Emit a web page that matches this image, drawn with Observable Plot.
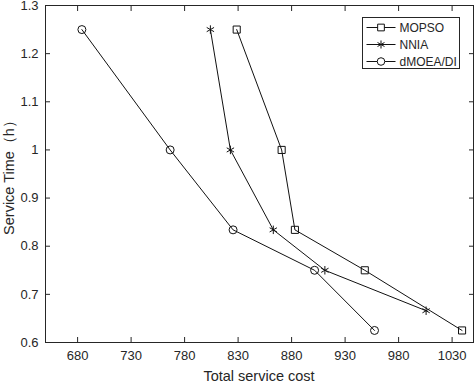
<!DOCTYPE html>
<html>
<head>
<meta charset="utf-8">
<script src="https://cdn.jsdelivr.net/npm/d3@7"></script>
<script src="https://cdn.jsdelivr.net/npm/@observablehq/plot@0.6"></script>
<style>
  html, body { margin: 0; padding: 0; background: #fff; }
  #chart { position: relative; width: 474px; height: 384px; }
  svg { font-family: Arial, "Liberation Sans", sans-serif; }
</style>
</head>
<body>
<div id="chart"></div>
<script>
const seriesNames = ["MOPSO", "NNIA", "dMOEA/DI"];
const symbols = ["square", "asterisk", "circle"];
const mopsoCost = [828.7, 870.7, 883.1, 948.4, 1039.3];
const mopsoTime = [1.25, 1.0, 0.834, 0.75, 0.625];
const nniaCost = [804.1, 822.8, 862.9, 911.1, 1005.7];
const nniaTime = [1.25, 1.0, 0.834, 0.75, 0.666];
const dmoeaCost = [684.0, 766.5, 825.3, 901.5, 957.5];
const dmoeaTime = [1.25, 1.0, 0.834, 0.75, 0.625];
const xTicks = [680, 730, 780, 830, 880, 930, 980, 1030];
const yTicks = [0.6, 0.7, 0.8, 0.9, 1, 1.1, 1.2, 1.3];
const xLabel = "Total service cost";
const yLabel = "Service Time\uFF08h\uFF09";

const costs = [mopsoCost, nniaCost, dmoeaCost];
const times = [mopsoTime, nniaTime, dmoeaTime];
const data = [];
seriesNames.forEach((s, i) => {
  costs[i].forEach((c, j) => data.push({series: s, cost: c, time: times[i][j], symbol: symbols[i]}));
});

const ink = "#262626";
const plot = Plot.plot({
  width: 474,
  height: 384,
  marginLeft: 45,
  marginRight: 1,
  marginTop: 5,
  marginBottom: 42,
  style: {fontFamily: "Arial, 'Liberation Sans', sans-serif", fontSize: "13px", color: ink, background: "#fff"},
  x: {domain: [650, 1050]},
  y: {domain: [0.6, 1.3]},
  marks: [
    Plot.frame({stroke: ink, strokeWidth: 1}),
    Plot.axisX(xTicks, {anchor: "bottom", tickSize: 0, tickPadding: 8, label: null, fontSize: 13, tickFormat: d => String(d)}),
    Plot.axisX(xTicks, {anchor: "bottom", tickSize: -5, text: null, label: null, stroke: ink}),
    Plot.axisX(xTicks, {anchor: "top", tickSize: -5, text: null, label: null, stroke: ink}),
    Plot.axisY(yTicks, {anchor: "left", tickSize: 0, tickPadding: 7, label: null, fontSize: 13, tickFormat: d => String(d)}),
    Plot.axisY(yTicks, {anchor: "left", tickSize: -5, text: null, label: null, stroke: ink}),
    Plot.axisY(yTicks, {anchor: "right", tickSize: -5, text: null, label: null, stroke: ink}),
    Plot.line(data, {x: "cost", y: "time", z: "series", stroke: "#111", strokeWidth: 1}),
    Plot.dot(data, {x: "cost", y: "time", symbol: "symbol", r: 4, stroke: "#111", fill: "none", strokeWidth: 1})
  ]
});
plot.style.display = "block";
document.getElementById("chart").appendChild(plot);

// axis labels and legend appended to the SVG
const svg = d3.select(plot);
svg.append("text")
  .attr("x", 259).attr("y", 381)
  .attr("text-anchor", "middle")
  .attr("fill", ink)
  .style("font-size", "14.5px")
  .text(xLabel);
svg.append("text")
  .attr("transform", "translate(14,174) rotate(-90)")
  .attr("text-anchor", "middle")
  .attr("fill", ink)
  .style("font-size", "14.5px")
  .text(yLabel);

const leg = svg.append("g").attr("transform", "translate(362.5,17.5)");
leg.append("rect").attr("width", 97).attr("height", 51).attr("fill", "#fff").attr("stroke", ink);
seriesNames.forEach((name, i) => {
  const g = leg.append("g").attr("transform", `translate(0,${10 + i * 17})`);
  g.append("line").attr("x1", 4).attr("x2", 33).attr("stroke", "#111");
  const symType = {square: d3.symbolSquare, asterisk: d3.symbolAsterisk, circle: d3.symbolCircle}[symbols[i]];
  g.append("path")
    .attr("transform", "translate(18.5,0)")
    .attr("d", d3.symbol(symType, 45)())
    .attr("fill", symbols[i] === "asterisk" ? "none" : "#fff")
    .attr("stroke", "#111");
  g.append("text").attr("x", 37).attr("y", 0).attr("dy", "0.35em")
    .attr("text-anchor", "start")
    .attr("fill", ink).style("font-size", "12px").text(name);
});
</script>
</body>
</html>
